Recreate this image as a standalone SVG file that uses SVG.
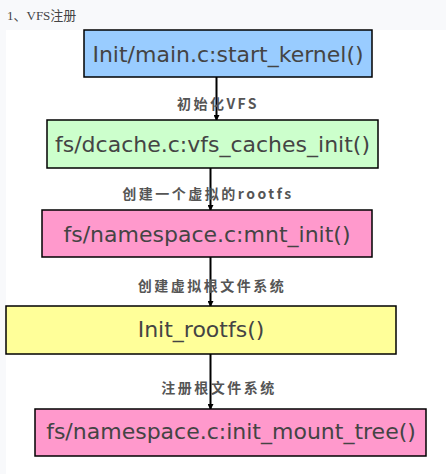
<svg xmlns="http://www.w3.org/2000/svg" width="446" height="474" viewBox="0 0 446 474">
<style>
.box{stroke:#000;stroke-width:1.5}
.t{font-family:"DejaVu Sans",Verdana,sans-serif;font-size:22px;fill:#444;text-anchor:middle}
.lbl{font-family:"Noto Sans CJK SC","DejaVu Sans",sans-serif;font-size:14px;font-weight:bold;fill:#555;text-anchor:middle;letter-spacing:2.5px}
.c{stroke:#000;stroke-width:2;fill:none}
</style>
<defs>
<marker id="ah" markerWidth="6" markerHeight="6" refX="5" refY="3" orient="auto" markerUnits="userSpaceOnUse">
<path d="M0,0 L6,3 L0,6 z" fill="#000"/>
</marker>
</defs>
<rect x="0" y="0" width="446" height="474" fill="#ffffff"/>
<rect x="0" y="0" width="446" height="30" fill="#f8f9fb"/>
<rect x="0" y="30" width="6" height="444" fill="#f8f9fb"/>
<text x="7" y="20" font-family="'Liberation Serif','Noto Sans CJK SC',serif" font-size="13" fill="#444">1、VFS注册</text>
<g id="connectors">
<line class="c" x1="216.5" y1="77" x2="216.5" y2="120" stroke-width="3" marker-end="url(#ah)"/>
<line class="c" x1="210.5" y1="168" x2="210.5" y2="210" marker-end="url(#ah)"/>
<line class="c" x1="210.5" y1="257" x2="210.5" y2="306" marker-end="url(#ah)"/>
<line class="c" x1="210.5" y1="354" x2="210.5" y2="409" marker-end="url(#ah)"/>
<text class="lbl" x="218" y="109">初始化VFS</text>
<text class="lbl" x="208" y="199">创建一个虚拟的rootfs</text>
<text class="lbl" x="212" y="291">创建虚拟根文件系统</text>
<text class="lbl" x="219" y="393">注册根文件系统</text>
</g>
<g id="start_kernel">
<rect class="box" x="84" y="30" width="288" height="47" fill="#99ccff"/>
<text class="t" x="228" y="62">Init/main.c:start_kernel()</text>
</g>
<g id="vfs_caches_init">
<rect class="box" x="47" y="120" width="331" height="48" fill="#ccffcc"/>
<text class="t" x="212.5" y="152">fs/dcache.c:vfs_caches_init()</text>
</g>
<g id="mnt_init">
<rect class="box" x="42" y="210" width="330" height="47" fill="#ff99cc"/>
<text class="t" x="207" y="242">fs/namespace.c:mnt_init()</text>
</g>
<g id="init_rootfs">
<rect class="box" x="6" y="306" width="390" height="48" fill="#ffff99"/>
<text class="t" x="201" y="337">Init_rootfs()</text>
</g>
<g id="init_mount_tree">
<rect class="box" x="35" y="409" width="391" height="47" fill="#ff99cc"/>
<text class="t" x="231" y="439">fs/namespace.c:init_mount_tree()</text>
</g>
</svg>
